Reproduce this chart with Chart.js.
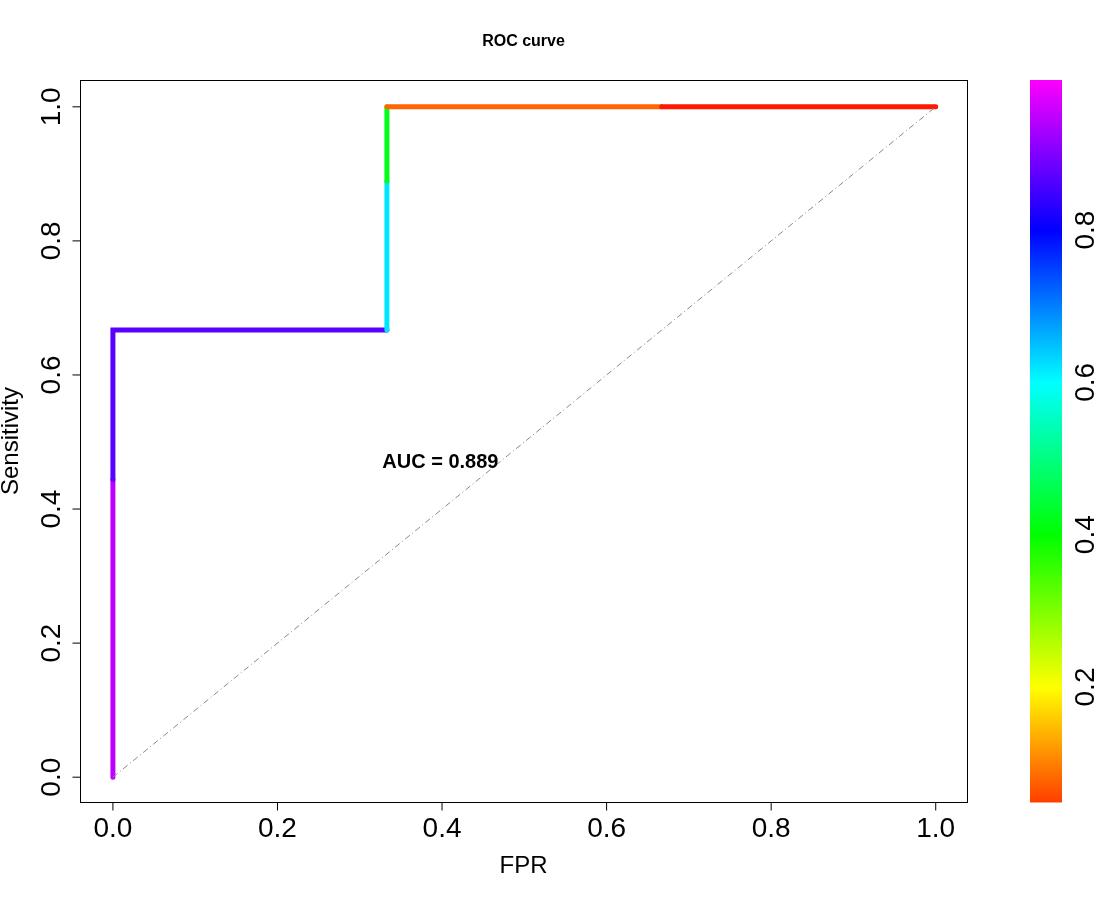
<!DOCTYPE html>
<html><head><meta charset="utf-8">
<script src="https://cdn.jsdelivr.net/npm/chart.js@4"></script>
<style>html,body{margin:0;background:#fff}#w{width:1101px;height:909px}</style>
</head><body><div id="w"><canvas id="c"></canvas></div>
<script>
const fpr = [0, 0, 0, 0, 0, 0, 0, 0.333, 0.333, 0.333, 0.333, 0.667, 1];
const tpr = [0, 0.111, 0.222, 0.333, 0.444, 0.556, 0.667, 0.667, 0.778, 0.889, 1, 1, 1];
const cutoffs = [0.95, 0.95, 0.95, 0.95, 0.87, 0.87, 0.87, 0.62, 0.62, 0.42, 0.08, 0.02, 0.02];
const xTicks = [0, 0.2, 0.4, 0.6, 0.8, 1.0];
const yTicks = [0, 0.2, 0.4, 0.6, 0.8, 1.0];
const cbTicks = [0.2, 0.4, 0.6, 0.8];
const cbMin = 0.049, cbMax = 0.997;
const aucText = 'AUC = 0.889';

function rainbow(v){ // red (low) -> magenta (high)
  return 'hsl('+(Math.max(0,Math.min(1,v))*300)+',100%,50%)';
}
const pts = fpr.map((x,i)=>({x, y:tpr[i]}));
const F = 'Liberation Sans, Arial, sans-serif';

const deco = {
  id:'deco',
  afterDraw(ch){
    const c=ch.ctx, a=ch.chartArea, X=ch.scales.x, Y=ch.scales.y;
    c.save();
    c.strokeStyle='#000'; c.lineWidth=1; c.fillStyle='#000';
    c.strokeRect(a.left+0.5,a.top+0.5,a.right-a.left,a.bottom-a.top);
    const ay=a.bottom+0.5;
    c.beginPath(); c.moveTo(X.getPixelForValue(0),ay); c.lineTo(X.getPixelForValue(1),ay);
    xTicks.forEach(v=>{const p=X.getPixelForValue(v); c.moveTo(p,ay); c.lineTo(p,ay+8);});
    c.stroke();
    c.font='28px '+F; c.textAlign='center'; c.textBaseline='top';
    xTicks.forEach(v=>c.fillText(v.toFixed(1),X.getPixelForValue(v),a.bottom+13));
    const ax=a.left+0.5;
    c.beginPath(); c.moveTo(ax,Y.getPixelForValue(0)); c.lineTo(ax,Y.getPixelForValue(1));
    yTicks.forEach(v=>{const p=Y.getPixelForValue(v); c.moveTo(ax,p); c.lineTo(ax-8,p);});
    c.stroke();
    yTicks.forEach(v=>{c.save(); c.translate(ax-14,Y.getPixelForValue(v)); c.rotate(-Math.PI/2);
      c.textAlign='center'; c.textBaseline='bottom'; c.fillText(v.toFixed(1),0,0); c.restore();});
    c.font='bold 16px '+F; c.textBaseline='middle'; c.textAlign='center';
    c.fillText('ROC curve',(a.left+a.right)/2,42);
    c.font='24px '+F; c.fillText('FPR',(a.left+a.right)/2,866);
    c.save(); c.translate(11,(a.top+a.bottom)/2); c.rotate(-Math.PI/2); c.fillText('Sensitivity',0,0); c.restore();
    c.font='bold 20px '+F;
    c.fillText(aucText,X.getPixelForValue(0.398),Y.getPixelForValue(0.47));
    const l=1030,r=1062,t=a.top,b=a.bottom;
    for(let py=t;py<b;py++){ const v=cbMax-(py-t)/(b-t)*(cbMax-cbMin); c.fillStyle=rainbow(v); c.fillRect(l,py,r-l,1.5);}
    c.fillStyle='#000'; c.font='28px '+F;
    cbTicks.forEach(v=>{const py=b-(v-cbMin)/(cbMax-cbMin)*(b-t);
      c.save(); c.translate(r+10,py); c.rotate(-Math.PI/2); c.textAlign='center'; c.textBaseline='top'; c.fillText(v.toFixed(1),0,0); c.restore();});
    c.restore();
  }
};

new Chart(document.getElementById('c'),{
  type:'scatter',
  data:{datasets:[
    {data:[{x:0,y:0},{x:1,y:1}], showLine:true, borderColor:'#888', borderWidth:1, borderDash:[6,3,1,3], pointRadius:0},
    {data:pts, showLine:true, borderWidth:5, pointRadius:0, borderCapStyle:'round',
     segment:{borderColor:ctx=>rainbow(cutoffs[ctx.p0DataIndex])}}
  ]},
  options:{responsive:true,maintainAspectRatio:false,animation:false,
    layout:{padding:{left:80,top:80,right:134,bottom:107}},
    plugins:{legend:{display:false},tooltip:{enabled:false}},
    scales:{x:{type:'linear',min:-0.040,max:1.038,display:false},
            y:{type:'linear',min:-0.037,max:1.040,display:false}}},
  plugins:[deco]
});
</script></body></html>
